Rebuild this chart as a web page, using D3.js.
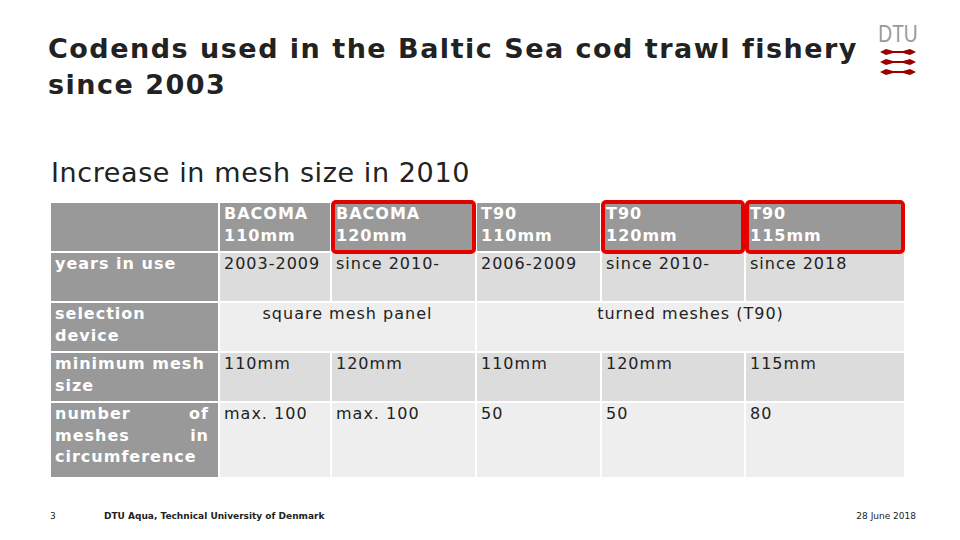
<!DOCTYPE html>
<html><head><meta charset="utf-8">
<script src="https://cdn.jsdelivr.net/npm/d3@7"></script>
<style>body{margin:0;background:#fff}svg{display:block;font-family:"DejaVu Sans",Verdana,sans-serif}</style>
</head><body>
<script>
const columns = ["", "BACOMA\n110mm", "BACOMA\n120mm", "T90\n110mm", "T90\n120mm", "T90\n115mm"];
const rowLabels = ["years in use", "selection\ndevice", "minimum mesh\nsize", "number of\nmeshes in\ncircumference"];
const yearsInUse = ["2003-2009", "since 2010-", "2006-2009", "since 2010-", "since 2018"];
const selectionDevice = [{text: "square mesh panel", from: 1, to: 2}, {text: "turned meshes (T90)", from: 3, to: 5}];
const minMesh = ["110mm", "120mm", "110mm", "120mm", "115mm"];
const meshCount = ["max. 100", "max. 100", "50", "50", "80"];
const highlighted = [2, 4, 5];

const W = 960, H = 540;
const svg = d3.select("body").append("svg").attr("width", W).attr("height", H);

// title
svg.append("text").attr("x", 48).attr("y", 58).attr("font-size", 27).attr("font-weight", "bold").attr("fill", "#222")
  .attr("letter-spacing", 1.5)
  .selectAll("tspan").data(["Codends used in the Baltic Sea cod trawl fishery", "since 2003"]).join("tspan")
  .attr("x", 48).attr("dy", (d, i) => i ? 36 : 0).text(d => d);
svg.append("text").attr("x", 51).attr("y", 182).attr("font-size", 27).attr("letter-spacing", 0.6).attr("fill", "#222").text("Increase in mesh size in 2010");

// logo
svg.append("text").attr("x", 898).attr("y", 42).attr("text-anchor", "middle").attr("font-size", 24)
  .attr("font-family", "Liberation Sans Narrow, Liberation Sans, sans-serif").attr("fill", "#999")
  .attr("transform", "translate(898,0) scale(0.8,1) translate(-898,0)").text("DTU");
[0, 1, 2].forEach(i => {
  const y = 52 + i * 10;
  svg.append("path").attr("d", `M880,${y} L886,${y-3} L893,${y-1} L903,${y-1} L910,${y-3} L916,${y} L910,${y+3} L903,${y+1} L893,${y+1} L886,${y+3} Z`).attr("fill", "#990000");
});

// table geometry
const colEdges = [50, 219, 331, 476, 601, 745, 905];
const rowEdges = [202, 252, 302, 352, 402, 478];
const cx = d3.scaleOrdinal().domain(d3.range(6)).range(colEdges.slice(0, 6));
const cw = i => colEdges[i + 1] - colEdges[i];
const ry = i => rowEdges[i];
const rh = i => rowEdges[i + 1] - rowEdges[i];
const g = svg.append("g").attr("font-size", 16).attr("letter-spacing", 1);
const bodyFill = r => r % 2 === 1 ? "#dcdcdc" : "#eeeeee";

function cell(r, c0, c1, fill, text, color, bold, anchor) {
  const x = cx(c0), w = colEdges[c1 + 1] - x;
  g.append("rect").attr("x", x + 1).attr("y", ry(r) + 1).attr("width", w - 2).attr("height", rh(r) - 2).attr("fill", fill);
  const lines = text.split("\n");
  const t = g.append("text").attr("fill", color).attr("font-weight", bold ? "bold" : "normal");
  lines.forEach((ln, i) => {
    const ty = ry(r) + 17 + i * 21.5;
    if (anchor === "middle") {
      t.append("tspan").attr("x", x + w / 2).attr("y", ty).attr("text-anchor", "middle").text(ln);
    } else if (anchor === "justify" && i < lines.length - 1 && ln.includes(" ")) {
      const parts = ln.split(" ");
      t.append("tspan").attr("x", x + 5).attr("y", ty).text(parts[0]);
      t.append("tspan").attr("x", x + w - 10).attr("y", ty).attr("text-anchor", "end").text(parts[1]);
    } else {
      t.append("tspan").attr("x", x + 5).attr("y", ty).text(ln);
    }
  });
}

columns.forEach((c, i) => cell(0, i, i, "#999999", c, "#fff", true));
rowLabels.forEach((l, i) => cell(i + 1, 0, 0, "#999999", l, "#fff", true, i === 3 ? "justify" : "start"));
yearsInUse.forEach((v, i) => cell(1, i + 1, i + 1, bodyFill(1), v, "#222"));
selectionDevice.forEach(d => cell(2, d.from, d.to, bodyFill(2), d.text, "#222", false, "middle"));
minMesh.forEach((v, i) => cell(3, i + 1, i + 1, bodyFill(3), v, "#222"));
meshCount.forEach((v, i) => cell(4, i + 1, i + 1, bodyFill(4), v, "#222"));

highlighted.forEach(c => {
  g.append("rect").attr("x", cx(c) + 2).attr("y", ry(0)).attr("width", cw(c) - 4).attr("height", rh(0))
    .attr("rx", 3).attr("fill", "none").attr("stroke", "#e50000").attr("stroke-width", 4);
});

// footer
svg.append("text").attr("x", 50).attr("y", 519).attr("font-size", 9).attr("fill", "#222").text("3");
svg.append("text").attr("x", 104).attr("y", 519).attr("font-size", 9).attr("font-weight", "bold").attr("fill", "#222").text("DTU Aqua, Technical University of Denmark");
svg.append("text").attr("x", 916).attr("y", 519).attr("font-size", 9).attr("text-anchor", "end").attr("fill", "#222").text("28 June 2018");
</script>
</body></html>
